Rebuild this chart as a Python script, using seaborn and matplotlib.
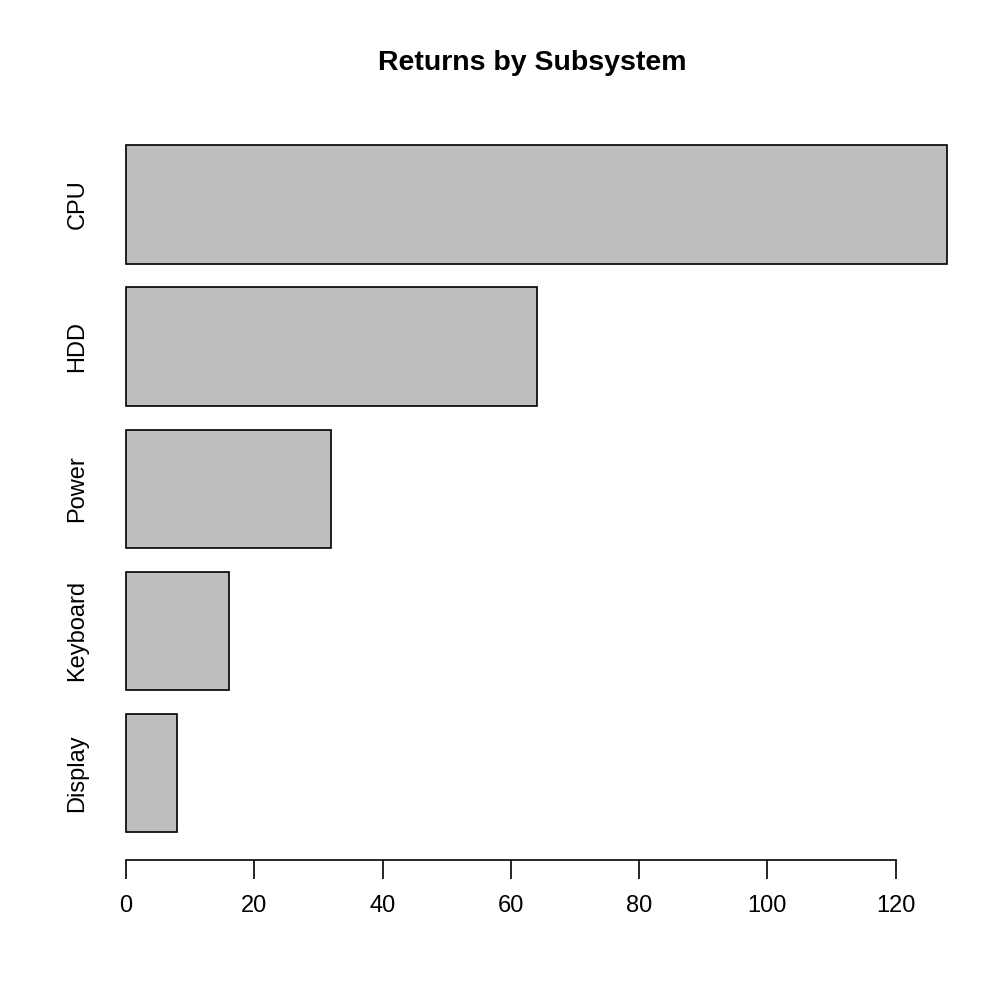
import matplotlib
matplotlib.use("Agg")
import matplotlib.pyplot as plt
import seaborn as sns
import pandas as pd

categories = ["CPU", "HDD", "Power", "Keyboard", "Display"]
returns = [128, 64, 32, 16, 8]
xticks = [0, 20, 40, 60, 80, 100, 120]

sns.set_theme(style="white")
plt.rcParams["font.family"] = ["Liberation Sans", "DejaVu Sans"]

df = pd.DataFrame({"subsystem": categories, "returns": returns})

fig = plt.figure(figsize=(10.08, 10.08), dpi=100)
ax = fig.add_axes([0.0925, 0.1472, 0.8795, 0.7358])

sns.barplot(data=df, x="returns", y="subsystem", orient="h", color="#bebebe",
            saturation=1, width=1/1.2, edgecolor="black", linewidth=1.2, ax=ax)

ax.set_xlim(-5.12, 133.12)
ax.set_ylim(4.61, -0.61)
ax.set_xlabel("")
ax.set_ylabel("")

for s in ["top", "right", "left"]:
    ax.spines[s].set_visible(False)
ax.spines["bottom"].set_bounds(0, 120)
ax.spines["bottom"].set_color("black")
ax.spines["bottom"].set_linewidth(1.2)

ax.set_xticks(xticks)
ax.set_xticklabels([str(t) for t in xticks], fontsize=17)
ax.tick_params(axis="x", which="both", bottom=True, length=14, width=1.2,
               color="black", pad=11.5, labelcolor="black")
ax.tick_params(axis="y", left=False, length=0, pad=11.5, labelcolor="black")
for lab in ax.get_yticklabels():
    lab.set_rotation(90)
    lab.set_fontsize(17)
    lab.set_va("center")
    lab.set_ha("center")

fig.text(0.5285, 0.9375, "Returns by Subsystem", ha="center", va="center",
         fontsize=20.5, fontweight="bold", color="black")

fig.savefig("out.png", dpi=100, facecolor="white")
